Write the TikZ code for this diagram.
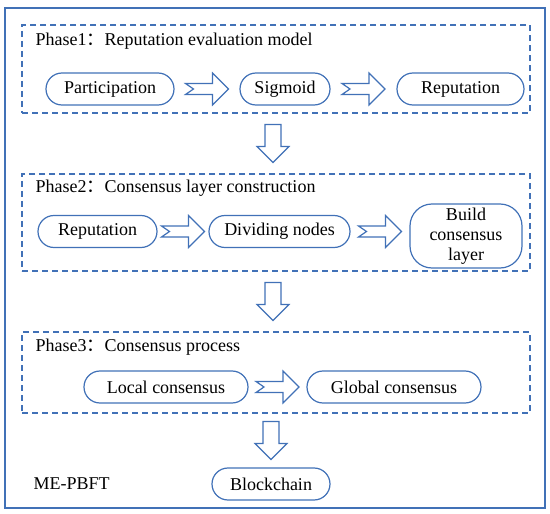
\documentclass[tikz,border=0pt]{standalone}
\usepackage{fontspec}
\setmainfont{Liberation Serif}
\newfontfamily\cjk{Noto Sans CJK SC}
\usetikzlibrary{calc}
\definecolor{edgeblue}{RGB}{65,113,183}
\tikzset{
  pill/.style={draw=edgeblue, line width=1.2pt, rounded corners=16pt, minimum height=32pt, inner sep=0pt},
  tallpill/.style={draw=edgeblue, line width=1.2pt, rounded corners=22pt, minimum height=64pt, minimum width=112pt, align=center, inner sep=0pt},
  phasebox/.style={draw=edgeblue, line width=1.2pt, dash pattern=on 6pt off 4pt, inner sep=0pt},
  rarrow/.pic={\draw[edgeblue, line width=1.2pt, fill=white] (-21.5,-5.5)--(5.5,-5.5)--(5.5,-16)--(21.5,0)--(5.5,16)--(5.5,5.5)--(-21.5,5.5)--(-13.5,0)--cycle;},
  darrow/.pic={\draw[edgeblue, line width=1.2pt, fill=white] (-8,-19)--(8,-19)--(8,3)--(16,3)--(0,19)--(-16,3)--(-8,3)--cycle;}
}
\begin{document}
\begin{tikzpicture}[x=1pt,y=-1pt,font=\fontsize{18}{20}\selectfont]
\useasboundingbox (0,0) rectangle (550,514);
\draw[edgeblue, line width=2pt] (5,8) rectangle (545,508);

\node[phasebox, minimum width=508pt, minimum height=88pt] (p1) at (276,69) {};
\node[anchor=west] (t1) at (32,41) {Phase1{\cjk ：}Reputation evaluation model};
\node[pill, minimum width=128pt] (part) at (110,89) {Participation};
\node[pill, minimum width=90pt] (sig) at (285,89) {Sigmoid};
\node[pill, minimum width=127pt] (rep1) at (460.5,89) {Reputation};
\pic at ($(part.east)!0.5!(sig.west)$) {rarrow};
\pic at ($(sig.east)!0.5!(rep1.west)$) {rarrow};

\node[phasebox, minimum width=508pt, minimum height=97pt] (p2) at (276,222.5) {};
\node[anchor=west] (t2) at (32,188) {Phase2{\cjk ：}Consensus layer construction};
\node[pill, minimum width=119pt] (rep2) at (97.5,231.5) {Reputation};
\node[pill, minimum width=141pt] (div) at (279.5,231.5) {Dividing nodes};
\node[tallpill] (build) at (466,236) {Build\\consensus\\layer};
\pic at ($(rep2.east)!0.5!(div.west)$) {rarrow};
\pic at ($(div.east)!0.5!(build.west |- div.east)$) {rarrow};

\node[phasebox, minimum width=508pt, minimum height=81pt] (p3) at (276,372.5) {};
\node[anchor=west] (t3) at (32,347) {Phase3{\cjk ：}Consensus process};
\node[pill, minimum width=164pt] (loc) at (166,387) {Local consensus};
\node[pill, minimum width=174pt] (glob) at (394,387) {Global consensus};
\pic at ($(loc.east)!0.5!(glob.west)$) {rarrow};

\node[pill, minimum width=118pt] (chain) at (271,484) {Blockchain};
\node[anchor=west] (me) at (30,484) {ME-PBFT};

\pic[xshift=-3pt] at ($(p1.south)!0.5!(p2.north)$) {darrow};
\pic[xshift=-3pt] at ($(p2.south)!0.5!(p3.north)$) {darrow};
\pic at ($(p3.south -| chain)!0.5!(chain.north)$) {darrow};
\end{tikzpicture}
\end{document}
